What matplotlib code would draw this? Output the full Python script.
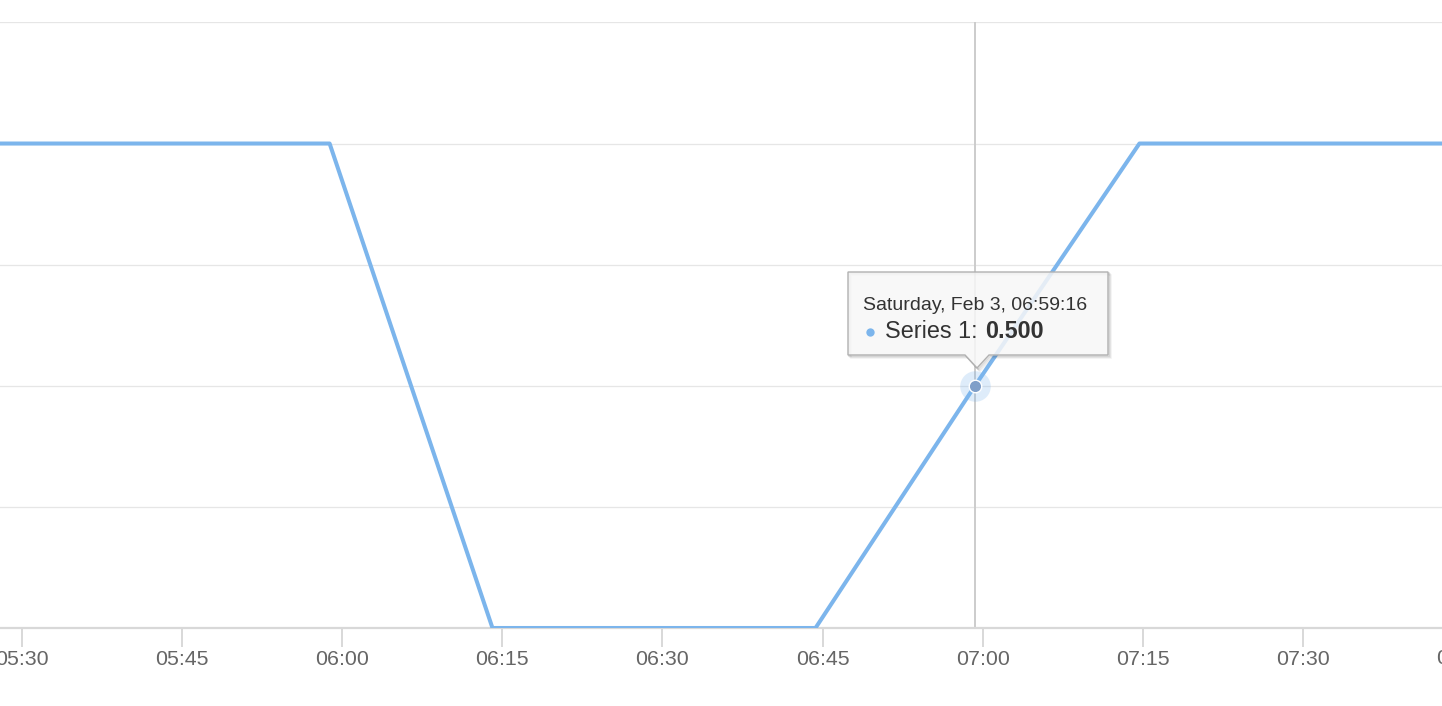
import matplotlib
matplotlib.use("Agg")
import matplotlib.pyplot as plt
import matplotlib.dates as mdates
from matplotlib.path import Path
from matplotlib.patches import PathPatch
from matplotlib.lines import Line2D
import pandas as pd

plt.rcParams['font.family'] = ['Liberation Sans', 'DejaVu Sans']

# ---- data ----
times = ["2018-02-03 05:00:00", "2018-02-03 05:58:50", "2018-02-03 06:14:05",
         "2018-02-03 06:44:20", "2018-02-03 06:59:16", "2018-02-03 07:14:40",
         "2018-02-03 08:00:00"]
values = [1.0, 1.0, 0.0, 0.0, 0.5, 1.0, 1.0]
series_name = "Series 1"
hover_time = "2018-02-03 06:59:16"
hover_value = 0.5
tooltip_header = "Saturday, Feb 3, 06:59:16"
x_min = "2018-02-03 05:27:58"
x_max = "2018-02-03 07:43:00"
edge_tick = "2018-02-03 07:45:00"
edge_tick_label = "07:45"
y_ticks = [0, 0.25, 0.5, 0.75, 1.0, 1.25]

W, H = 1442, 706
fig = plt.figure(figsize=(W / 100, H / 100), dpi=100)
ax_bottom_px, ax_top_px = 628, 22.4
ax = fig.add_axes([0, 1 - ax_bottom_px / H, 1, (ax_bottom_px - ax_top_px) / H])

t = pd.to_datetime(times)
color = '#7cb5ec'

ax.set_xlim(pd.Timestamp(x_min), pd.Timestamp(x_max))
ax.set_ylim(0, 1.25)
ax.set_yticks(y_ticks)
ax.yaxis.grid(True, color='#e6e6e6', lw=0.9)
ax.tick_params(axis='y', left=False, labelleft=False)
for s in ['left', 'right', 'top']:
    ax.spines[s].set_visible(False)
ax.spines['bottom'].set_color('#d8d8d8')
ax.spines['bottom'].set_linewidth(1.6)
ax.xaxis.set_major_locator(mdates.MinuteLocator(byminute=[0, 15, 30, 45]))
ax.xaxis.set_major_formatter(mdates.DateFormatter('%H:%M'))
ax.tick_params(axis='x', direction='out', length=14, width=1.4, color='#d8d8d8',
               labelsize=15.4, labelcolor='#666666', pad=2)
ax.set_axisbelow(True)
ax.set_facecolor('white')

# partially visible label just beyond the right edge
ax.annotate(edge_tick_label, xy=(pd.Timestamp(edge_tick), 0), xycoords=('data', 'axes fraction'),
            xytext=(0, -30), textcoords='offset pixels', ha='center', va='center',
            fontsize=15.4, color='#666666', annotation_clip=False)

# crosshair
ht = pd.Timestamp(hover_time)
ax.axvline(ht, color='#cccccc', lw=1.4, zorder=1)

ax.plot(t, values, color=color, lw=2.9, solid_joinstyle='round', solid_capstyle='round', zorder=3)

# hover marker with halo
ax.plot([ht], [hover_value], 'o', ms=22, color=color, alpha=0.25, mec='none', zorder=4)
ax.plot([ht], [hover_value], 'o', ms=9, color='#7f9fc9', mec='white', mew=1, zorder=5)

# tooltip (figure pixel coordinates from top-left)
def fp(x, y):
    return (x / W, 1 - y / H)

L, R, T, B = 848, 1108, 272, 355
tipx, tipy = 977, 368
verts = [fp(L, T), fp(R, T), fp(R, B), fp(tipx + 12, B), fp(tipx, tipy),
         fp(tipx - 12, B), fp(L, B), fp(L, T)]
codes = [Path.MOVETO] + [Path.LINETO] * 6 + [Path.CLOSEPOLY]
for off, a in [(3, 0.05), (2, 0.08), (1, 0.12)]:
    sv = [(vx + off / W, vy - off / H) for vx, vy in verts]
    fig.patches.append(PathPatch(Path(sv, codes), transform=fig.transFigure,
                                 facecolor='none', edgecolor='black', alpha=a, lw=1.2))
fig.patches.append(PathPatch(Path(verts, codes), transform=fig.transFigure,
                             facecolor=(0.97, 0.97, 0.97, 0.85), edgecolor='#b0b0b0', lw=1))

fig.text(*fp(863, 310), tooltip_header, fontsize=14, color='#333333', va='baseline', ha='left')
fig.text(*fp(885, 338), series_name + ": ", fontsize=16.8, color='#333333', va='baseline', ha='left')
fig.text(*fp(985, 338), f"{hover_value:.3f}", fontsize=16.8, color='#333333',
         fontweight='bold', va='baseline', ha='left')
bx, by = fp(870, 332)
fig.add_artist(Line2D([bx], [by], marker='o', ms=6, color=color, mec='none',
                      transform=fig.transFigure))

fig.savefig('out.png', dpi=100, facecolor='white')
